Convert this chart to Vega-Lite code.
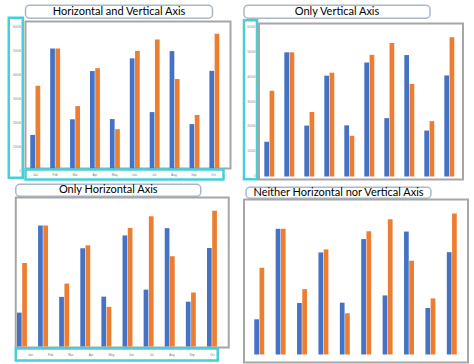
{
  "$schema": "https://vega.github.io/schema/vega-lite/v6.json",
  "background": "white",
  "padding": {"left": 6.75, "top": 4.25, "right": 0, "bottom": 0},
  "config": {"view": {"stroke": null}, "concat": {"spacing": 0}},
  "datasets": {
    "sales": [
      {"month": "Jan", "series": "Series 1", "value": 14000}, {"month": "Jan", "series": "Series 2", "value": 34500},
      {"month": "Feb", "series": "Series 1", "value": 50000}, {"month": "Feb", "series": "Series 2", "value": 50000},
      {"month": "Mar", "series": "Series 1", "value": 20500}, {"month": "Mar", "series": "Series 2", "value": 26000},
      {"month": "Apr", "series": "Series 1", "value": 40600}, {"month": "Apr", "series": "Series 2", "value": 41800},
      {"month": "May", "series": "Series 1", "value": 20600}, {"month": "May", "series": "Series 2", "value": 16400},
      {"month": "Jun", "series": "Series 1", "value": 45900}, {"month": "Jun", "series": "Series 2", "value": 49000},
      {"month": "Jul", "series": "Series 1", "value": 23500}, {"month": "Jul", "series": "Series 2", "value": 53800},
      {"month": "Aug", "series": "Series 1", "value": 48900}, {"month": "Aug", "series": "Series 2", "value": 37300},
      {"month": "Sep", "series": "Series 1", "value": 18500}, {"month": "Sep", "series": "Series 2", "value": 22300},
      {"month": "Oct", "series": "Series 1", "value": 40700}, {"month": "Oct", "series": "Series 2", "value": 56100}
    ]
  },
  "spacing": 10.25,
  "hconcat": [
    {
      "spacing": 2,
      "vconcat": [
        {
          "spacing": -1.25,
          "hconcat": [
            {
              "spacing": 9.5,
              "vconcat": [
                {"width": 14, "height": 1, "data": {"values": []}, "mark": "point", "encoding": {}, "view": {"stroke": null}},
                {
                  "width": 14, "height": 160,
                  "data": {"name": "sales"},
                  "view": {"stroke": "#47cfd6", "strokeWidth": 2.5},
                  "mark": {"type": "tick", "opacity": 0},
                  "encoding": {
                    "y": {"field": "value", "type": "quantitative",
                      "scale": {"domain": [-3333, 63333], "nice": false},
                      "axis": {"values": [0, 10000, 20000, 30000, 40000, 50000, 60000], "format": "d", "offset": -12, "labelPadding": 0, "labelFontSize": 3, "labelColor": "#888", "ticks": false, "domain": false, "grid": false, "title": null}}
                  }
                }
              ]
            },
            {
              "spacing": 1.25,
              "vconcat": [
                {
                  "width": 187, "height": 13,
                  "data": {"values": [{"t": "Horizontal and Vertical Axis"}]},
                  "view": {"stroke": "#a8b8cc", "strokeWidth": 1.5, "cornerRadius": 4, "fill": "white"},
                  "mark": {"type": "text", "font": "Lato", "fontSize": 11, "color": "black"},
                  "encoding": {"text": {"field": "t"}}
                },
                {
                  "spacing": -2.25,
                  "vconcat": [
                    {
                      "width": 205, "height": 147,
                      "data": {"name": "sales"},
                      "view": {"stroke": "#a6a6a6", "strokeWidth": 2},
                      "mark": {"type": "bar"},
                      "encoding": {
                        "x": {"field": "month", "type": "nominal", "sort": null, "axis": null, "scale": {"paddingInner": 0.5, "paddingOuter": 0.4, "align": 0.3}},
                        "xOffset": {"field": "series", "type": "nominal", "scale": {"paddingInner": 0.1}},
                        "y": {"field": "value", "type": "quantitative", "axis": null, "scale": {"domain": [0, 61250], "nice": false}},
                        "y2": {"datum": 0},
                        "color": {"field": "series", "type": "nominal", "legend": null, "scale": {"domain": ["Series 1", "Series 2"], "range": ["#4472C4", "#ED7D31"]}}
                      }
                    },
                    {
                      "width": 198, "height": 10,
                      "data": {"name": "sales"},
                      "transform": [{"filter": "datum.series == 'Series 1'"}],
                      "view": {"stroke": "#47cfd6", "strokeWidth": 2.5},
                      "mark": {"type": "text", "fontSize": 3, "color": "#777"},
                      "encoding": {
                        "x": {"field": "month", "type": "nominal", "sort": null, "axis": null, "scale": {"paddingInner": 0.5, "paddingOuter": 0.225, "align": 0.5}},
                        "text": {"field": "month"}
                      }
                    }
                  ]
                }
              ]
            }
          ]
        },
        {
          "spacing": 0,
          "hconcat": [
            {"width": 4.75, "height": 1, "data": {"values": []}, "mark": "point", "encoding": {}, "view": {"stroke": null}},
            {
              "spacing": -0.75,
              "vconcat": [
                {
                  "width": 185, "height": 12,
                  "data": {"values": [{"t": "Only Horizontal Axis"}]},
                  "view": {"stroke": "#a8b8cc", "strokeWidth": 1.5, "cornerRadius": 4, "fill": "white"},
                  "mark": {"type": "text", "font": "Lato", "fontSize": 11, "color": "black"},
                  "encoding": {"text": {"field": "t"}}
                },
                {
                  "spacing": -2.25,
                  "vconcat": [
                    {
                      "width": 213, "height": 150,
                      "data": {"name": "sales"},
                      "view": {"stroke": "#a6a6a6", "strokeWidth": 2},
                      "mark": {"type": "bar"},
                      "encoding": {
                        "x": {"field": "month", "type": "nominal", "sort": null, "axis": null, "scale": {"paddingInner": 0.49, "paddingOuter": 0.29, "align": 0.1}},
                        "xOffset": {"field": "series", "type": "nominal", "scale": {"paddingInner": 0.1}},
                        "y": {"field": "value", "type": "quantitative", "axis": null, "scale": {"domain": [-413, 61570], "nice": false}},
                        "y2": {"datum": 0},
                        "color": {"field": "series", "type": "nominal", "legend": null, "scale": {"domain": ["Series 1", "Series 2"], "range": ["#4472C4", "#ED7D31"]}}
                      }
                    },
                    {
                      "width": 202, "height": 12,
                      "data": {"name": "sales"},
                      "transform": [{"filter": "datum.series == 'Series 1'"}],
                      "view": {"stroke": "#47cfd6", "strokeWidth": 2.5},
                      "mark": {"type": "text", "fontSize": 3, "color": "#777"},
                      "encoding": {
                        "x": {"field": "month", "type": "nominal", "sort": null, "axis": null, "scale": {"paddingInner": 0.5, "paddingOuter": 0.04, "align": 0.73}},
                        "text": {"field": "month"}
                      }
                    }
                  ]
                }
              ]
            }
          ]
        }
      ]
    },
    {
      "spacing": 4,
      "vconcat": [
        {
          "spacing": -1,
          "vconcat": [
            {
              "width": 186, "height": 13,
              "data": {"values": [{"t": "Only Vertical Axis"}]},
              "view": {"stroke": "#a8b8cc", "strokeWidth": 1.5, "cornerRadius": 4, "fill": "white"},
              "mark": {"type": "text", "font": "Lato", "fontSize": 11, "color": "black"},
              "encoding": {"text": {"field": "t"}}
            },
            {
              "spacing": -2.25,
              "hconcat": [
                {
                  "width": 13, "height": 159,
                  "data": {"name": "sales"},
                  "view": {"stroke": "#47cfd6", "strokeWidth": 2.5},
                  "mark": {"type": "tick", "opacity": 0},
                  "encoding": {
                    "y": {"field": "value", "type": "quantitative",
                      "scale": {"domain": [-1611, 62416], "nice": false},
                      "axis": {"values": [0, 10000, 20000, 30000, 40000, 50000, 60000], "format": "d", "offset": -11, "labelPadding": 0, "labelFontSize": 3, "labelColor": "#888", "ticks": false, "domain": false, "grid": false, "title": null}}
                  }
                },
                {
                  "spacing": 1.25,
                  "vconcat": [
                    {"width": 1, "height": 1, "data": {"values": []}, "mark": "point", "encoding": {}, "view": {"stroke": null}},
                    {
                      "width": 204, "height": 156,
                      "data": {"name": "sales"},
                      "view": {"stroke": "#a6a6a6", "strokeWidth": 2},
                      "mark": {"type": "bar"},
                      "encoding": {
                        "x": {"field": "month", "type": "nominal", "sort": null, "axis": null, "scale": {"paddingInner": 0.5, "paddingOuter": 0.35, "align": 0.38}},
                        "xOffset": {"field": "series", "type": "nominal", "scale": {"paddingInner": 0.1}},
                        "y": {"field": "value", "type": "quantitative", "axis": null, "scale": {"domain": [-1208, 61611], "nice": false}},
                        "y2": {"datum": 0},
                        "color": {"field": "series", "type": "nominal", "legend": null, "scale": {"domain": ["Series 1", "Series 2"], "range": ["#4472C4", "#ED7D31"]}}
                      }
                    }
                  ]
                }
              ]
            }
          ]
        },
        {
          "spacing": -0.75,
          "vconcat": [
            {
              "spacing": 0,
              "hconcat": [
                {"width": 0.5, "height": 1, "data": {"values": []}, "mark": "point", "encoding": {}, "view": {"stroke": null}},
                {
                  "width": 185, "height": 11,
                  "data": {"values": [{"t": "Neither Horizontal nor Vertical Axis"}]},
                  "view": {"stroke": "#a8b8cc", "strokeWidth": 1.5, "cornerRadius": 4, "fill": "white"},
                  "mark": {"type": "text", "font": "Lato", "fontSize": 11, "color": "black"},
                  "encoding": {"text": {"field": "t"}}
                }
              ]
            },
            {
              "width": 224, "height": 163,
              "data": {"name": "sales"},
              "view": {"stroke": "#a6a6a6", "strokeWidth": 2},
              "mark": {"type": "bar"},
              "encoding": {
                "x": {"field": "month", "type": "nominal", "sort": null, "axis": null, "scale": {"paddingInner": 0.49, "paddingOuter": 0.48, "align": 0.5}},
                "xOffset": {"field": "series", "type": "nominal", "scale": {"paddingInner": 0.1}},
                "y": {"field": "value", "type": "quantitative", "axis": null, "scale": {"domain": [-3182, 61655], "nice": false}},
                "y2": {"datum": 0},
                "color": {"field": "series", "type": "nominal", "legend": null, "scale": {"domain": ["Series 1", "Series 2"], "range": ["#4472C4", "#ED7D31"]}}
              }
            }
          ]
        }
      ]
    }
  ]
}
